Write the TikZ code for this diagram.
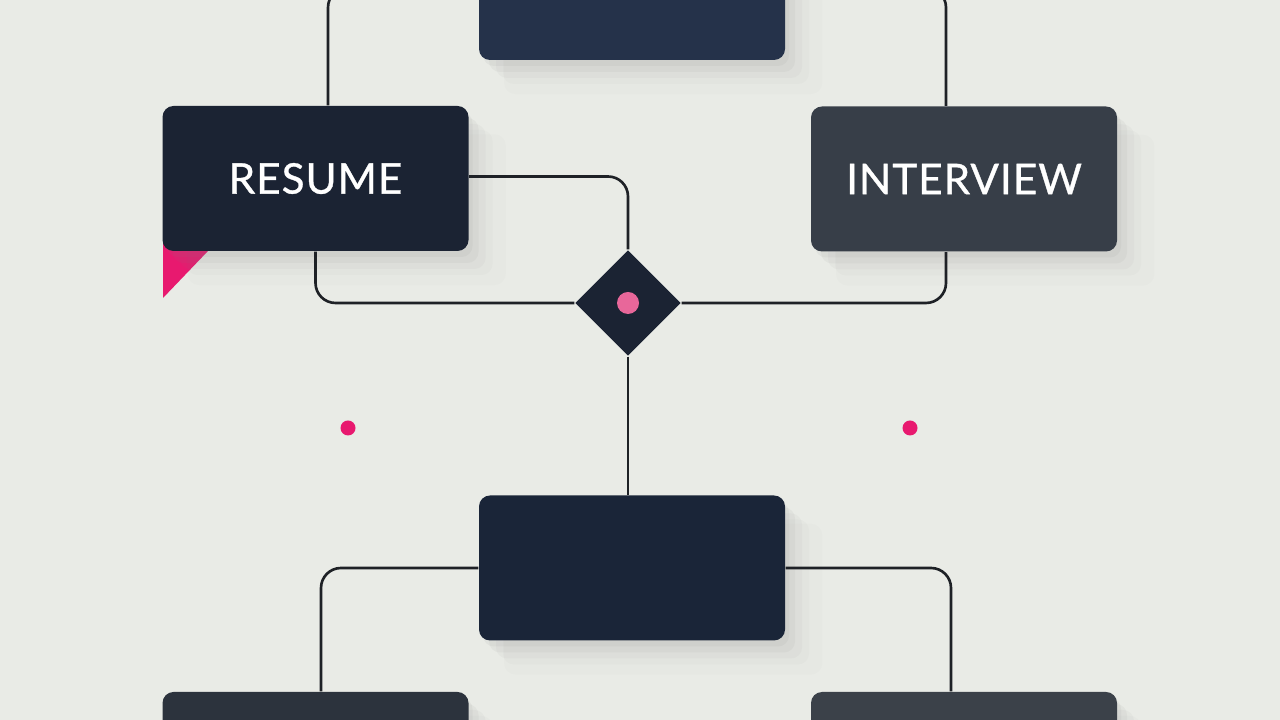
\documentclass[tikz,border=0pt]{standalone}
\usepackage{fontspec}
\setmainfont[LetterSpace=2.5, FakeBold=0.8]{Lato}
\usetikzlibrary{positioning, shapes.geometric, shadows}
\definecolor{paper}{HTML}{E9EBE6}
\definecolor{navyA}{HTML}{1B2333}
\definecolor{navyB}{HTML}{25324A}
\definecolor{navyC}{HTML}{1A2538}
\definecolor{slateA}{HTML}{373E48}
\definecolor{slateB}{HTML}{2C333D}
\definecolor{slateC}{HTML}{3B4149}
\definecolor{ink}{HTML}{1E2126}
\definecolor{hotpink}{HTML}{E8196F}
\definecolor{softpink}{HTML}{E8679A}

\tikzset{
  box/.style={rectangle, rounded corners=1.1mm, minimum width=3.06cm, minimum height=1.45cm,
    inner sep=0pt, text=white, font=\fontsize{12}{14}\selectfont,
    drop shadow={shadow xshift=0.30cm, shadow yshift=-0.30cm, opacity=0.025, shadow scale=1.04},
    drop shadow={shadow xshift=0.24cm, shadow yshift=-0.24cm, opacity=0.035},
    drop shadow={shadow xshift=0.17cm, shadow yshift=-0.18cm, opacity=0.05},
    drop shadow={shadow xshift=0.10cm, shadow yshift=-0.12cm, opacity=0.07},
    drop shadow={shadow xshift=0.04cm, shadow yshift=-0.06cm, opacity=0.08}},
  link/.style={ink, line width=0.75pt, rounded corners=2mm},
}

\begin{document}
\begin{tikzpicture}
        \fill[paper] (0,0) rectangle (12.8,7.2);
        \useasboundingbox (0,0) rectangle (12.8,7.2);
        \clip (0,0) rectangle (12.8,7.2);

        % pink corner behind the resume card
        \coordinate (rsw) at (1.63,4.69);
        \fill[hotpink] ([yshift=0.08cm]rsw) -- ([yshift=-0.47cm]rsw) -- ([xshift=0.45cm]rsw) -- cycle;

        % cards
        \node[box, fill=navyB] (top) at (6.32,7.325) {};
        \node[box, fill=navyA] (resume) at (3.155,5.415) {\raisebox{-0.7mm}{RESUME}};
        \node[box, fill=slateA] (interview) at (9.64,5.41) {\raisebox{-0.7mm}{INTERVIEW}};
        \node[box, fill=navyC] (middle) at (6.32,1.52) {};
        \node[box, fill=slateB] (botleft) at (3.155,-0.445) {};
        \node[box, fill=slateC] (botright) at (9.64,-0.445) {};

        % hub
        \node[diamond, aspect=1, fill=navyA, minimum size=1.06cm, inner sep=0pt] (hub) at (6.28,4.17) {};
        \fill[softpink] (hub.center) circle (0.11);

        % connectors
        \draw[link] ([xshift=1.25mm]resume.north) |- (top.west);
        \draw[link] ([xshift=-1.8mm]interview.north) |- (top.east);
        \draw[link] ([yshift=0.2mm]resume.east) -| (hub.north);
        \draw[link] (resume.south) |- (hub.west);
        \draw[link] (hub.east) -| ([xshift=-1.8mm]interview.south);
        \draw[link] (hub.south) -- (hub.south |- middle.north);
        \draw[link] (middle.west) -| ([xshift=0.55mm]botleft.north);
        \draw[link] (middle.east) -| ([xshift=-1.3mm]botright.north);

        % dots
        \fill[hotpink] (3.48,2.92) circle (0.075);
        \fill[hotpink] (9.10,2.92) circle (0.075);
    \end{tikzpicture}
\end{document}
